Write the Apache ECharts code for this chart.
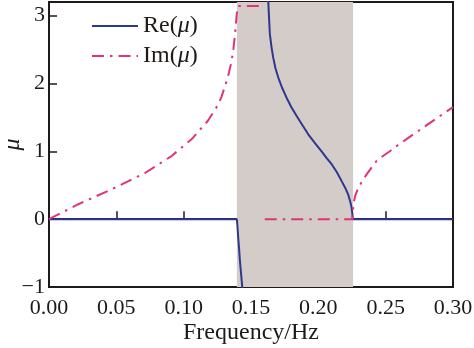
<!DOCTYPE html>
<html>
<head>
<meta charset="utf-8">
<title>Re(μ) and Im(μ) versus frequency</title>
<script src="https://cdn.jsdelivr.net/npm/echarts@6/dist/echarts.min.js"></script>
<style>
  html, body { margin: 0; padding: 0; background: #fff; }
  #chart { width: 474px; height: 348px; }
</style>
</head>
<body>
<div id="chart"></div>
<script>
// Real part of mu (null marks a break at the asymptote)
const reFreq = [0, 0.1395, 0.1400, 0.1405, 0.1412, 0.1418, 0.1427, 0.1435, 0.1445,
  null,
  0.1603, 0.1608, 0.1615, 0.1621, 0.1628, 0.1634, 0.1640, 0.1652, 0.1665, 0.1682,
  0.1702, 0.1730, 0.1764, 0.1800, 0.1839, 0.1880, 0.1925, 0.1975, 0.2024, 0.2062,
  0.2099, 0.2138, 0.2173, 0.2200, 0.2222, 0.2237, 0.2247, 0.2252, 0.2255, 0.30];
const reVal = [0, 0, -0.12, -0.27, -0.45, -0.62, -0.82, -1.0, -1.25,
  null,
  6.0, 4.8, 3.95, 3.5, 3.22, 2.97, 2.73, 2.54, 2.38, 2.22,
  2.09, 1.94, 1.79, 1.65, 1.52, 1.39, 1.25, 1.12, 1.0, 0.9,
  0.81, 0.69, 0.56, 0.46, 0.36, 0.26, 0.17, 0.09, 0, 0];

// Imaginary part of mu
const imFreq = [0, 0.0218, 0.0465, 0.0713, 0.0910, 0.1060, 0.1180, 0.1257, 0.1282,
  0.1307, 0.1333, 0.1356, 0.1370, 0.1380, 0.1387, 0.1393, 0.1398, 0.1402, 0.1602,
  null,
  0.1602, 0.2255, 0.2257, 0.2262, 0.2275, 0.2297, 0.2325, 0.2359, 0.2395, 0.2433,
  0.2480, 0.2531, 0.2590, 0.2655, 0.2779, 0.2903, 0.30];
const imVal = [0, 0.22, 0.44, 0.68, 0.93, 1.18, 1.45, 1.69, 1.81,
  1.96, 2.13, 2.33, 2.52, 2.70, 2.85, 3.0, 3.09, 3.14, 3.14,
  null,
  0, 0, 0.12, 0.24, 0.35, 0.46, 0.56, 0.66, 0.76, 0.86,
  0.93, 1.0, 1.09, 1.18, 1.35, 1.52, 1.65];

// Band edges (shaded frequency range)
const bandRange = [0.1395, 0.2258];

// Axis ticks
const xTicks = [0, 0.05, 0.10, 0.15, 0.20, 0.25, 0.30];
const yTicks = [-1, 0, 1, 2, 3];

const pairs = (xs, ys) => xs.map((x, i) => (x === null ? ['-', '-'] : [x, ys[i]]));

const FONT = 'Liberation Serif';
const INK = '#1e1a18';

const chart = echarts.init(document.getElementById('chart'), null, { renderer: 'canvas' });

chart.setOption({
  animation: false,
  textStyle: { fontFamily: FONT, color: INK },
  grid: {
    left: 49, right: 21, top: 2, bottom: 61,
    containLabel: false,
    outerBoundsMode: 'none',
    show: true, borderColor: INK, borderWidth: 2, backgroundColor: 'transparent'
  },
  legend: {
    orient: 'vertical',
    left: 86, top: 9,
    itemWidth: 46, itemHeight: 14, itemGap: 6,
    itemStyle: { opacity: 0 },
    textStyle: {
      fontFamily: FONT, fontSize: 24, color: INK,
      rich: { i: { fontFamily: FONT, fontSize: 24, fontStyle: 'italic', color: INK } }
    },
    formatter: name => name.replace('μ', '{i|μ}'),
    data: ['Re(μ)', 'Im(μ)']
  },
  xAxis: {
    type: 'value',
    min: xTicks[0], max: xTicks[xTicks.length - 1], interval: 0.05,
    name: 'Frequency/Hz', nameLocation: 'middle', nameGap: 34,
    nameMoveOverlap: false,
    nameTextStyle: { fontFamily: FONT, fontSize: 24, color: INK },
    axisLine: { show: true, lineStyle: { color: INK, width: 2 } },
    axisTick: { show: true, inside: true, length: 8, lineStyle: { color: INK, width: 1.5 } },
    axisLabel: {
      fontFamily: FONT, fontSize: 22, color: INK, margin: 10,
      formatter: v => v.toFixed(2)
    },
    splitLine: { show: false }
  },
  yAxis: {
    type: 'value',
    min: yTicks[0], max: 3.2, interval: 1,
    name: 'μ', nameLocation: 'middle', nameGap: 24,
    nameMoveOverlap: false,
    nameTextStyle: { fontFamily: FONT, fontSize: 24, fontStyle: 'italic', color: INK },
    axisLine: { show: true, lineStyle: { color: INK, width: 2 } },
    axisTick: { show: true, inside: true, length: 8, lineStyle: { color: INK, width: 1.5 } },
    axisLabel: {
      fontFamily: FONT, fontSize: 22, color: INK, margin: 4,
      showMaxLabel: false,
      formatter: v => (yTicks.includes(v) ? String(v).replace('-', '\u2212') : '')
    },
    splitLine: { show: false }
  },
  series: [
    {
      name: 'band',
      type: 'line',
      data: [],
      silent: true,
      z: 0,
      markArea: {
        silent: true,
        itemStyle: { color: '#d4ccc8', opacity: 1 },
        data: [[{ xAxis: bandRange[0] }, { xAxis: bandRange[1] }]]
      }
    },
    {
      name: 'Re(μ)',
      type: 'line',
      data: pairs(reFreq, reVal),
      symbol: 'none',
      smooth: false,
      connectNulls: false,
      clip: true,
      z: 3,
      itemStyle: { color: '#2e3790' },
      lineStyle: { color: '#2e3790', width: 2 }
    },
    {
      name: 'Im(μ)',
      type: 'line',
      data: pairs(imFreq, imVal),
      symbol: 'none',
      smooth: false,
      connectNulls: false,
      clip: true,
      z: 4,
      itemStyle: { color: '#e2327a' },
      lineStyle: { color: '#e2327a', width: 2, type: [12, 6, 2.5, 6] }
    }
  ]
});
</script>
</body>
</html>
